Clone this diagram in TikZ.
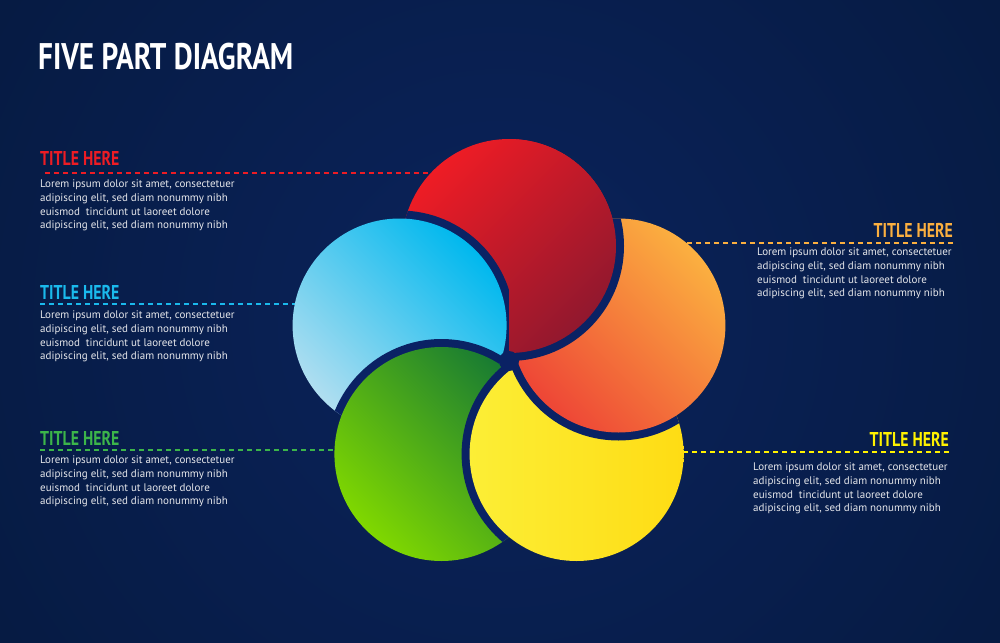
\documentclass[tikz,border=0pt]{standalone}
\usepackage{fontspec}
\setmainfont{PT Sans}
\newfontfamily\condfont{PT Sans}[FakeStretch=0.79]
\definecolor{bgin}{HTML}{0B235C}
\definecolor{bgout}{HTML}{01132B}
\definecolor{ringc}{HTML}{0A2264}
\definecolor{bodyc}{HTML}{E6E7EB}
\definecolor{tred}{HTML}{ED1C24}
\definecolor{tblue}{HTML}{1AB9EC}
\definecolor{tgreen}{HTML}{3CB54A}
\definecolor{torange}{HTML}{FBAF3F}
\definecolor{tyellow}{HTML}{FFF200}
\tikzset{
  ringfill/.style={fill=ringc},
  leader/.style={line width=2pt, dash pattern=on 5pt off 4pt},
  sectitle/.style={inner sep=0pt, font=\condfont\bfseries\fontsize{20}{22}\selectfont},
  bodytext/.style={inner sep=0pt, align=left, text=bodyc, font=\fontsize{11}{13.6}\selectfont},
  redshade/.style={top color={rgb,255:red,238;green,28;blue,37}, middle color={rgb,255:red,212;green,29;blue,42}, bottom color={rgb,255:red,145;green,24;blue,46}, shading angle=45},
  orangeshade/.style={top color={rgb,255:red,251;green,176;blue,64}, middle color={rgb,255:red,251;green,170;blue,63}, bottom color={rgb,255:red,238;green,70;blue,54}, shading angle=-45},
  yellowshade/.style={left color={rgb,255:red,252;green,238;blue,54}, right color={rgb,255:red,254;green,220;blue,20}},
  greenshade/.style={top color={rgb,255:red,23;green,122;blue,51}, middle color={rgb,255:red,76;green,166;blue,31}, bottom color={rgb,255:red,128;green,216;blue,0}, shading angle=-45},
  blueshade/.style={top color={rgb,255:red,0;green,184;blue,238}, middle color={rgb,255:red,60;green,195;blue,237}, bottom color={rgb,255:red,176;green,222;blue,240}, shading angle=-45}
}
% disc fill; ring of the disc #1 clipped to the disc #2 it lies on
\newcommand\pdisc[2]{\shade[#2] (#1) circle (107);}
\newcommand\pring[2]{\begin{scope}\clip (#2) circle (107); \fill[ringfill] (#1) circle (115);\end{scope}}
\begin{document}
\begin{tikzpicture}[x=1pt,y=-1pt]
\useasboundingbox (0,0) rectangle (1000,642);
\fill[bgout] (0,0) rectangle (1000,642);
\begin{scope}
  \clip (0,0) rectangle (1000,642);
  \shade[inner color=bgin, outer color=bgout] (500,320) circle (1150);
\end{scope}

% centres
\coordinate (O) at (509,361);
\coordinate (cR) at (509,246);
\coordinate (cO) at (618.4,325.5);
\coordinate (cY) at (576.6,454);
\coordinate (cG) at (441.4,454);
\coordinate (cB) at (399.6,325.5);

% title
\node[anchor=base west, inner sep=0pt, text=white, font=\condfont\bfseries\fontsize{37}{40}\selectfont] (title) at (38,69) {FIVE PART DIAGRAM};

% leader start points
\coordinate (lR) at (45,173);
\coordinate (lB) at (40,304);
\coordinate (lG) at (40,450);
\coordinate (lO) at (953,243);
\coordinate (lY) at (949,452);

\draw[leader, tred] (lR) -- (lR -| cR);
\draw[leader, tblue] (lB) -- (lB -| cB);
\draw[leader, tgreen] (lG) -- (lG -| cG);
\draw[leader, torange] (lO) -- (lO -| cO);
\draw[leader, tyellow] (lY) -- (lY -| cY);

% section titles
\node[sectitle, text=tred, anchor=base west] (tR) at (40,165) {TITLE HERE};
\node[sectitle, text=tblue, anchor=base west] (tB) at (40,299) {TITLE HERE};
\node[sectitle, text=tgreen, anchor=base west] (tG) at (40,445) {TITLE HERE};
\node[sectitle, text=torange, anchor=base east] (tO) at (953,237) {TITLE HERE};
\node[sectitle, text=tyellow, anchor=base east] (tY) at (949,446) {TITLE HERE};

% body texts
\node[bodytext, anchor=north west] (bR) at (40,180) {Lorem ipsum dolor sit amet, consectetuer\\adipiscing elit, sed diam nonummy nibh\\euismod\ \ tincidunt ut laoreet dolore\\adipiscing elit, sed diam nonummy nibh};
\node[bodytext, anchor=north west] (bB) at (40,311) {Lorem ipsum dolor sit amet, consectetuer\\adipiscing elit, sed diam nonummy nibh\\euismod\ \ tincidunt ut laoreet dolore\\adipiscing elit, sed diam nonummy nibh};
\node[bodytext, anchor=north west] (bG) at (40,456) {Lorem ipsum dolor sit amet, consectetuer\\adipiscing elit, sed diam nonummy nibh\\euismod\ \ tincidunt ut laoreet dolore\\adipiscing elit, sed diam nonummy nibh};
\node[bodytext, anchor=north west] (bO) at (757,248) {Lorem ipsum dolor sit amet, consectetuer\\adipiscing elit, sed diam nonummy nibh\\euismod\ \ tincidunt ut laoreet dolore\\adipiscing elit, sed diam nonummy nibh};
\node[bodytext, anchor=north west] (bY) at (753,463) {Lorem ipsum dolor sit amet, consectetuer\\adipiscing elit, sed diam nonummy nibh\\euismod\ \ tincidunt ut laoreet dolore\\adipiscing elit, sed diam nonummy nibh};

% discs: red < blue < green < yellow < orange < red
\pdisc{cR}{redshade}
\pring{cB}{cR}
\pdisc{cB}{blueshade}
\pring{cG}{cB}
\pdisc{cG}{greenshade}
\pring{cY}{cG}
\pdisc{cY}{yellowshade}
\pring{cO}{cY}
\pdisc{cO}{orangeshade}
\begin{scope}
  \clip (O |- 0,0) rectangle (1000,642);
  \pring{cR}{cO}
  \pdisc{cR}{redshade}
\end{scope}
% dark junction at the centre
\fill[ringc] (O) circle (10);
\end{tikzpicture}
\end{document}
